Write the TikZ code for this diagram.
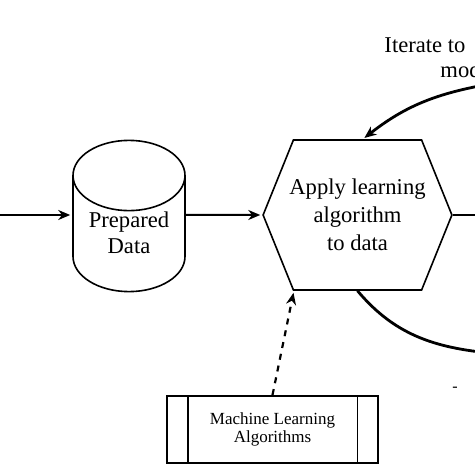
\documentclass[tikz,border=0pt]{standalone}
\usepackage{fontspec}
\setmainfont{Liberation Serif}
\usetikzlibrary{shapes,arrows.meta}

\begin{document}
\begin{tikzpicture}[x=0.5pt,y=-0.5pt,shorten >=1pt,>={Stealth[length=6pt,width=5pt]},thick]
\tikzstyle{every node}=[font=\fontsize{11.3}{14}\selectfont]
\tikzstyle{db}=[cylinder,shape border rotate=90,aspect=0.75,draw,minimum width=56pt,minimum height=75.5pt,align=center,anchor=shape center,font=\fontsize{11.3}{13}\selectfont,text depth=10pt,inner ysep=0pt]
\tikzstyle{hex}=[signal,signal to=west and east,signal pointer angle=136,draw,inner xsep=-2pt,minimum height=75pt,align=center]
\tikzstyle{proc}=[rectangle split,rectangle split horizontal,rectangle split parts=3,draw,inner xsep=2.75pt,inner ysep=8.5pt,font=\fontsize{8.5}{9}\selectfont]
\useasboundingbox (0,0) rectangle (474,474);

\node[db](D) at (129,216) {Prepared\\Data};
\node[hex](A) at (357.5,215) {Apply learning\\algorithm\\to data};
\node[proc](M) at (272.5,429.5) {\nodepart{two}\parbox{78.5pt}{\centering Machine Learning\\Algorithms}};
\node[anchor=west](I1) at (377,45) {Iterate to};
\node[anchor=west](I2) at (433,70) {mod};
\node[font=\fontsize{8}{9}\selectfont](X) at (455,389) {-};

\coordinate (L) at (-5,215);
\coordinate (R) at (480,215);
\coordinate (T) at (490,84);
\coordinate (B) at (500,354);

\draw[->,line width=1pt] (L) -- (L -| D.west);
\draw[->,line width=1pt] (D.east |- A) -- (A);
\draw (A.east) -- (R);
\draw[->,dashed,line width=1.1pt] (M.north) -- (A.230);
\draw[->,line width=1.4pt] (T) to[out=190,in=38] (A.86);
\draw[line width=1.4pt] (A.south) to[out=-50,in=175] (B);
\end{tikzpicture}
\end{document}
